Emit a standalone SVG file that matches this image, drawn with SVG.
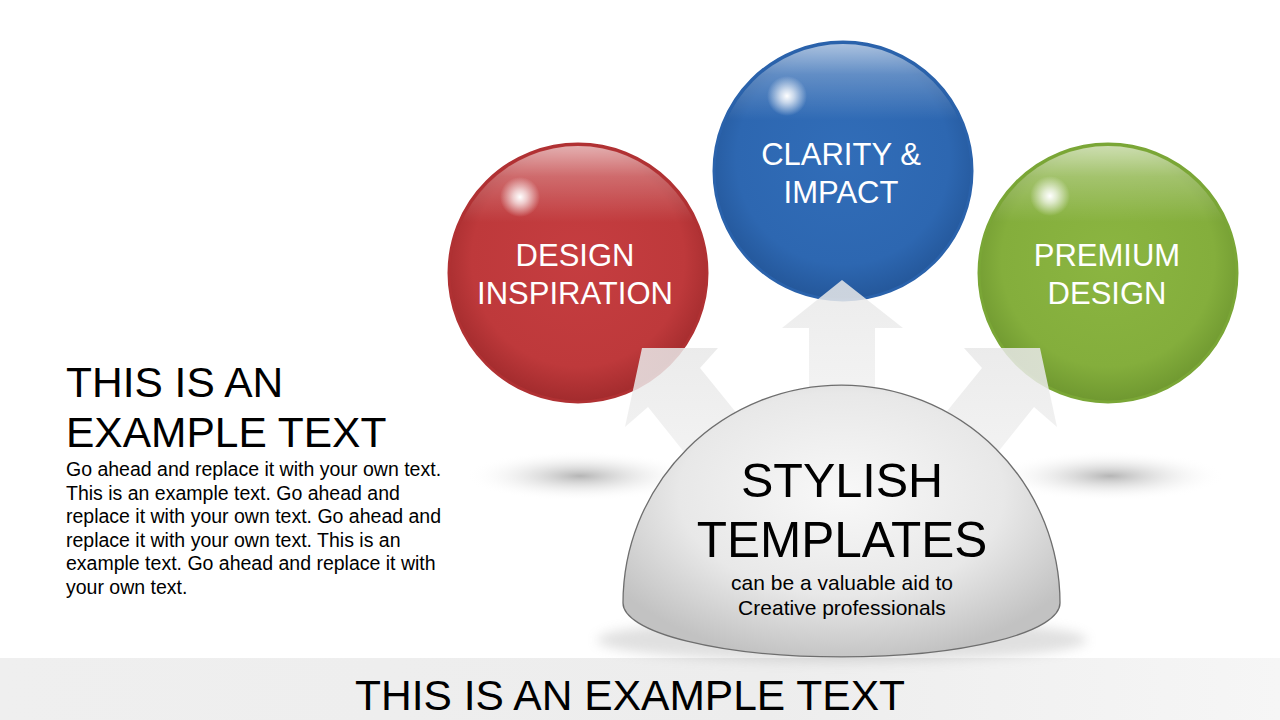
<svg xmlns="http://www.w3.org/2000/svg" width="1280" height="720" viewBox="0 0 1280 720">
<style>
.ct{font-family:"Liberation Sans",Arial,sans-serif;fill:#ffffff;font-size:31px;text-anchor:middle}
.dt{font-family:"Liberation Sans",Arial,sans-serif;fill:#000000;text-anchor:middle}
.lt{font-family:"Liberation Sans",Arial,sans-serif;fill:#000000}
.arrow{fill:url(#arrowFill);opacity:0.85}
</style>
<defs>
<radialGradient id="redFill" cx="50%" cy="45%" r="55%">
<stop offset="0" stop-color="#c53d40"/><stop offset="0.75" stop-color="#be393b"/><stop offset="1" stop-color="#a22b2d"/>
</radialGradient>
<radialGradient id="blueFill" cx="50%" cy="45%" r="55%">
<stop offset="0" stop-color="#316db8"/><stop offset="0.75" stop-color="#2d67b1"/><stop offset="1" stop-color="#24579a"/>
</radialGradient>
<radialGradient id="greenFill" cx="50%" cy="45%" r="55%">
<stop offset="0" stop-color="#8bb541"/><stop offset="0.75" stop-color="#84ae3c"/><stop offset="1" stop-color="#6f9830"/>
</radialGradient>
<linearGradient id="gloss" x1="0" y1="0" x2="0" y2="1">
<stop offset="0" stop-color="#ffffff" stop-opacity="0.6"/><stop offset="0.12" stop-color="#ffffff" stop-opacity="0.25"/><stop offset="0.3" stop-color="#ffffff" stop-opacity="0"/>
</linearGradient>
<radialGradient id="spot">
<stop offset="0" stop-color="#ffffff" stop-opacity="1"/><stop offset="0.35" stop-color="#ffffff" stop-opacity="0.7"/><stop offset="1" stop-color="#ffffff" stop-opacity="0"/>
</radialGradient>
<radialGradient id="shadow">
<stop offset="0" stop-color="#a8a8a8" stop-opacity="0.85"/><stop offset="0.5" stop-color="#d0d0d0" stop-opacity="0.4"/><stop offset="1" stop-color="#ffffff" stop-opacity="0"/>
</radialGradient>
<radialGradient id="domeFill" cx="50%" cy="40%" r="62%">
<stop offset="0" stop-color="#f8f8f8"/><stop offset="0.6" stop-color="#e8e8e8"/><stop offset="1" stop-color="#c2c2c2"/>
</radialGradient>
<linearGradient id="arrowFill" x1="0" y1="0" x2="0" y2="1">
<stop offset="0" stop-color="#e8e8e8"/><stop offset="1" stop-color="#f2f2f2"/>
</linearGradient>
<linearGradient id="band" x1="0" y1="0" x2="1" y2="0">
<stop offset="0" stop-color="#efefef"/><stop offset="0.6" stop-color="#ededed"/><stop offset="1" stop-color="#f6f6f6"/>
</linearGradient>
<filter id="blur" x="-20%" y="-50%" width="140%" height="200%"><feGaussianBlur stdDeviation="6"/></filter>
</defs>
<rect width="1280" height="720" fill="#ffffff"/>
<rect x="0" y="658" width="1280" height="62" fill="url(#band)"/>

<g id="shadows">
<ellipse cx="580" cy="476" rx="115" ry="25" fill="url(#shadow)"/>
<ellipse cx="1110" cy="476" rx="115" ry="25" fill="url(#shadow)"/>
<ellipse cx="842" cy="640" rx="245" ry="22" fill="#9a9a9a" opacity="0.3" filter="url(#blur)"/>
</g>

<g id="node-design-inspiration">
<circle cx="578" cy="273" r="129" fill="url(#redFill)" stroke="#b03133" stroke-width="3"/>
<circle cx="578" cy="273" r="127" fill="url(#gloss)"/>
<circle cx="520" cy="197" r="20" fill="url(#spot)"/>
<text class="ct" x="575" y="266">DESIGN</text>
<text class="ct" x="575" y="304">INSPIRATION</text>
</g>

<g id="node-clarity-impact">
<circle cx="843" cy="171" r="129" fill="url(#blueFill)" stroke="#2a62ab" stroke-width="3"/>
<circle cx="843" cy="171" r="127" fill="url(#gloss)"/>
<circle cx="787" cy="96" r="20" fill="url(#spot)"/>
<text class="ct" x="841" y="165">CLARITY &amp;</text>
<text class="ct" x="841" y="203">IMPACT</text>
</g>

<g id="node-premium-design">
<circle cx="1108" cy="273" r="129" fill="url(#greenFill)" stroke="#7aa636" stroke-width="3"/>
<circle cx="1108" cy="273" r="127" fill="url(#gloss)"/>
<circle cx="1050" cy="196" r="20" fill="url(#spot)"/>
<text class="ct" x="1107" y="266">PREMIUM</text>
<text class="ct" x="1107" y="304">DESIGN</text>
</g>

<g id="connectors">
<path class="arrow" d="M842,280 L903,328 L875,328 L875,410 L809,410 L809,328 L782,328 Z"/>
<path class="arrow" d="M642,348 L718,348 L700,368 L760,442 L708,482 L648,407 L625,427 Z"/>
<path class="arrow" d="M1040,348 L964,348 L982,368 L922,442 L974,482 L1034,407 L1057,427 Z"/>
</g>

<g id="node-stylish-templates">
<path d="M623,603 A218.5,218 0 0 1 1060,603 A218.5,54 0 0 1 623,603 Z" fill="url(#domeFill)" stroke="#6e6e6e" stroke-width="1.3"/>
<text class="dt" x="842" y="497" font-size="48.5">STYLISH</text>
<text class="dt" x="842" y="557" font-size="49.5">TEMPLATES</text>
<text class="dt" x="842" y="590" font-size="21" fill="#1a1a1a">can be a valuable aid to</text>
<text class="dt" x="842" y="615" font-size="21" fill="#1a1a1a">Creative professionals</text>
</g>

<g id="left-text">
<text class="lt" x="66" y="397" font-size="42.5">THIS IS AN</text>
<text class="lt" x="66" y="447" font-size="42.5">EXAMPLE TEXT</text>
<g font-size="19.5" fill="#222222">
<text class="lt" x="66" y="476">Go ahead and replace it with your own text.</text>
<text class="lt" x="66" y="499.5">This is an example text. Go ahead and</text>
<text class="lt" x="66" y="523">replace it with your own text. Go ahead and</text>
<text class="lt" x="66" y="546.5">replace it with your own text. This is an</text>
<text class="lt" x="66" y="570">example text. Go ahead and replace it with</text>
<text class="lt" x="66" y="593.5">your own text.</text>
</g>
</g>

<g id="bottom-title">
<text class="lt" x="355" y="710" font-size="42" textLength="550" lengthAdjust="spacingAndGlyphs">THIS IS AN EXAMPLE TEXT</text>
</g>
</svg>
